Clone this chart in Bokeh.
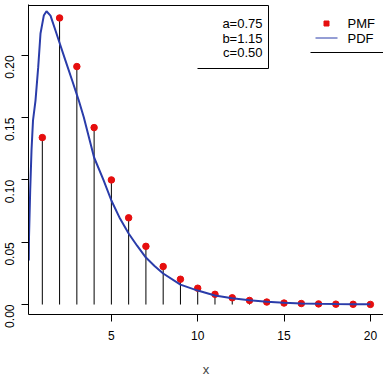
import math
from bokeh.plotting import figure
from bokeh.models import FixedTicker, PrintfTickFormatter, Range1d
from bokeh.core.properties import value
from bokeh.embed import file_html
from bokeh.resources import INLINE

# Probability mass at x = 1..20
pmf_x = list(range(1, 21))
pmf_y = [0.134, 0.230, 0.191, 0.142, 0.100, 0.0696, 0.0467, 0.0305, 0.0203, 0.0131,
         0.0082, 0.0054, 0.0033, 0.0020, 0.0012, 0.0008, 0.0005, 0.0003, 0.0002, 0.0001]

# Density curve
pdf_x = [0.217, 0.229, 0.298, 0.374, 0.461, 0.605, 0.762, 0.895, 1.086, 1.242, 1.474,
         1.763, 1.954, 2.342, 2.730, 3.113, 3.402, 4.0, 4.54, 5.0, 5.5, 6.0, 6.5, 7.0,
         7.5, 8.0, 9.0, 10.0, 11.0, 12.0, 13.0, 14.0, 15.0, 16.0, 17.0, 18.0, 19.0, 20.0]
pdf_y = [0.0353, 0.0538, 0.0915, 0.1236, 0.1477, 0.1637, 0.1905, 0.2175, 0.2319, 0.2354,
         0.2319, 0.2199, 0.2119, 0.1958, 0.1798, 0.1637, 0.1503, 0.118, 0.100, 0.0835,
         0.069, 0.057, 0.047, 0.0377, 0.031, 0.0249, 0.016, 0.0112, 0.0072, 0.0050,
         0.0034, 0.0022, 0.0014, 0.0009, 0.0006, 0.0004, 0.0003, 0.0002]

x_ticks = [5, 10, 15, 20]
y_ticks = [0.0, 0.05, 0.10, 0.15, 0.20]
param_lines = ["a=0.75", "b=1.15", "c=0.50"]
legend_labels = ["PMF", "PDF"]

FONT = "Liberation Sans"
RED = "#e60e0e"
BLUE = "#2a3caa"

X0, X1 = 0.2, 20.76
Y0, Y1 = -0.008, 0.2408
LEFT = 33   # left border; the canvas is shifted 5px left so the y labels run off the edge

p = figure(width=388, height=383, output_backend="svg", toolbar_location=None,
           x_range=Range1d(X0, X1), y_range=Range1d(Y0, Y1),
           min_border_left=LEFT, min_border_right=0, min_border_top=4, min_border_bottom=69,
           styles={"margin-left": "-5px"})
p.outline_line_color = None
p.grid.visible = False
p.background_fill_color = "white"
p.border_fill_color = "white"

# axes
for ax in (p.xaxis[0], p.yaxis[0]):
    ax.axis_line_color = "black"
    ax.major_tick_line_color = "black"
    ax.minor_tick_line_color = None
    ax.major_tick_out = 7
    ax.major_tick_in = 0
    ax.major_label_text_font = FONT
    ax.major_label_text_font_size = "12px"
    ax.major_label_text_color = "black"

p.xaxis.ticker = FixedTicker(ticks=x_ticks)
p.xaxis.major_label_standoff = 9
p.xaxis.axis_label = "x"
p.xaxis.axis_label_text_font = FONT
p.xaxis.axis_label_text_font_style = "normal"
p.xaxis.axis_label_text_font_size = "13px"
p.xaxis.axis_label_standoff = 19

p.yaxis.ticker = FixedTicker(ticks=y_ticks)
p.yaxis.formatter = PrintfTickFormatter(format="%.2f")
p.yaxis.major_label_orientation = math.pi / 2
p.yaxis.major_label_standoff = 12

# stems, points, density
p.segment(x0=pmf_x, y0=[0] * len(pmf_x), x1=pmf_x, y1=pmf_y, line_color="black", line_width=1)
p.scatter(pmf_x, pmf_y, marker="circle", size=6.5, fill_color=RED, line_color=RED)
p.line(pdf_x, pdf_y, line_color=BLUE, line_width=2)

# pixel helpers (window pixels) for annotation placement inside the frame
def dx(px):
    return X0 + (px - 28) * (X1 - X0) / 355.0

def dy(py):
    return Y1 - (py - 4) * (Y1 - Y0) / 310.0

# parameter box
p.segment(x0=[dx(28), dx(268), dx(197)], y0=[dy(5), dy(5), dy(68)],
          x1=[dx(268), dx(268), dx(268)], y1=[dy(5), dy(68), dy(68)],
          line_color="black", line_width=1)
p.text(x=[dx(262)] * 3, y=[dy(23), dy(37.5), dy(52)], text=param_lines,
       text_font=value(FONT), text_font_size="13px", text_align="right",
       text_baseline="middle", text_color="black")

# legend
p.scatter([dx(326)], [dy(23)], marker="square", size=5, fill_color=RED, line_color=RED)
p.segment(x0=[dx(315)], y0=[dy(37.5)], x1=[dx(337)], y1=[dy(37.5)], line_color=BLUE, line_width=1)
p.text(x=[dx(347)] * 2, y=[dy(23), dy(37.5)], text=legend_labels,
       text_font=value(FONT), text_font_size="13px", text_align="left",
       text_baseline="middle", text_color="black")
p.segment(x0=[dx(310)], y0=[dy(52)], x1=[dx(383)], y1=[dy(52)], line_color="black", line_width=1)

open("out.html", "w").write(file_html(p, INLINE))
